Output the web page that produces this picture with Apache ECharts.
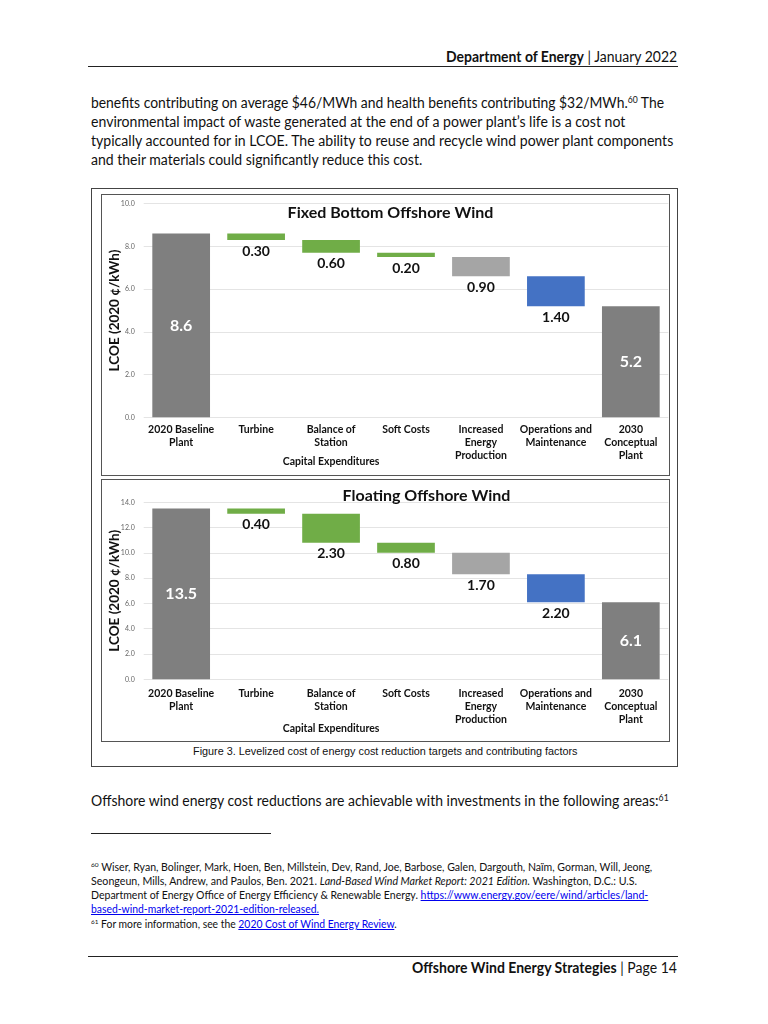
<!DOCTYPE html>
<html><head><meta charset="utf-8">
<script src="https://cdn.jsdelivr.net/npm/echarts@6.0.0/dist/echarts.min.js"></script>
<style>
html,body{margin:0;padding:0;background:#fff}
body{width:768px;height:1024px;position:relative;overflow:hidden;font-family:Lato,'Noto Sans',sans-serif;color:#111}
.ln{position:absolute;white-space:nowrap;left:0;top:0}
.ln sup{font-size:0.62em;vertical-align:0.55em;line-height:0}
.rule{position:absolute;height:0;border-top:1px solid #222}
.box{position:absolute;box-sizing:border-box}
a{color:#0000ee;text-decoration:underline}
.chart{position:absolute}
</style></head>
<body>
<div class="ln" data-a="r" data-x="677" data-y="56.7" data-w="231" data-fs="14.5"><b>Department of Energy</b> | January 2022</div>
<div class="rule" style="left:88px;top:66px;width:590px"></div>

<div class="ln" data-x="91" data-y="102.8" data-w="573" data-fs="14.5">benefits contributing on average $46/MWh and health benefits contributing $32/MWh.<sup>60</sup> The</div>
<div class="ln" data-x="91" data-y="121.5" data-w="534" data-fs="14.5">environmental impact of waste generated at the end of a power plant’s life is a cost not</div>
<div class="ln" data-x="91" data-y="140.2" data-w="582" data-fs="14.5">typically accounted for in LCOE. The ability to reuse and recycle wind power plant components</div>
<div class="ln" data-x="91" data-y="159.2" data-w="331" data-fs="14.5">and their materials could significantly reduce this cost.</div>

<div class="box" style="left:91px;top:188px;width:587px;height:579px;border:1.5px solid #444"></div>
<div class="box" style="left:101px;top:194px;width:569px;height:282px;border:1.5px solid #555"></div>
<div class="box" style="left:101px;top:479px;width:569px;height:263px;border:1.5px solid #555"></div>
<div id="c1" class="chart" style="left:101px;top:194px;width:569px;height:282px"></div>
<div id="c2" class="chart" style="left:101px;top:479px;width:569px;height:263px"></div>

<div class="ln" data-a="c" data-x="384.8" data-y="751" data-w="384" data-fs="11.5" style="font-family:'Liberation Sans',Arial,sans-serif">Figure 3. Levelized cost of energy cost reduction targets and contributing factors</div>

<div class="ln" data-x="91" data-y="800" data-w="578" data-fs="14.5">Offshore wind energy cost reductions are achievable with investments in the following areas:<sup>61</sup></div>
<div class="rule" style="left:91px;top:833px;width:180px"></div>

<div class="ln" data-x="91" data-y="867.3" data-w="561" data-fs="10.5"><sup>60</sup> Wiser, Ryan, Bolinger, Mark, Hoen, Ben, Millstein, Dev, Rand, Joe, Barbose, Galen, Dargouth, Naïm, Gorman, Will, Jeong,</div>
<div class="ln" data-x="91" data-y="881.2" data-w="546" data-fs="10.5">Seongeun, Mills, Andrew, and Paulos, Ben. 2021. <i>Land-Based Wind Market Report: 2021 Edition</i>. Washington, D.C.: U.S.</div>
<div class="ln" data-x="91" data-y="895.5" data-w="557" data-fs="10.5">Department of Energy Office of Energy Efficiency &amp; Renewable Energy. <a>https://www.energy.gov/eere/wind/articles/land-</a></div>
<div class="ln" data-x="91" data-y="909.3" data-w="228" data-fs="10.5"><a>based-wind-market-report-2021-edition-released.</a></div>
<div class="ln" data-x="91" data-y="924" data-w="306" data-fs="10.5"><sup>61</sup> For more information, see the <a>2020 Cost of Wind Energy Review</a>.</div>

<div class="rule" style="left:88px;top:956px;width:590px"></div>
<div class="ln" data-a="r" data-x="677" data-y="967.7" data-w="265" data-fs="14.5"><b>Offshore Wind Energy Strategies</b> | Page 14</div>

<script>
// ---------- data ----------
const categories = ['2020 Baseline\nPlant', 'Turbine', 'Balance of\nStation', 'Soft Costs', 'Increased\nEnergy\nProduction', 'Operations and\nMaintenance', '2030\nConceptual\nPlant'];
const fixedBaseline = 8.6;
const fixedReductions = [0.30, 0.60, 0.20, 0.90, 1.40];
const fixedTarget = 5.2;
const floatingBaseline = 13.5;
const floatingReductions = [0.40, 2.30, 0.80, 1.70, 2.20];
const floatingTarget = 6.1;
const fixedAxisMax = 10, floatingAxisMax = 14, axisInterval = 2;
const groupLabel = 'Capital Expenditures';
const yAxisTitle = 'LCOE (2020 ¢/kWh)';

// ---------- text layout ----------
document.querySelectorAll('.ln').forEach(el => {
  const fs = +el.dataset.fs, lh = fs * 1.25;
  el.style.fontSize = fs + 'px';
  el.style.lineHeight = lh + 'px';
  el.style.top = (+el.dataset.y - lh / 2 + 0.05 * fs) + 'px';
  const w = el.offsetWidth, s = +el.dataset.w / w, a = el.dataset.a;
  if (a === 'r') { el.style.left = (+el.dataset.x - w) + 'px'; el.style.transformOrigin = '100% 50%'; }
  else if (a === 'c') { el.style.left = (+el.dataset.x - w / 2) + 'px'; el.style.transformOrigin = '50% 50%'; }
  else { el.style.left = el.dataset.x + 'px'; el.style.transformOrigin = '0 50%'; }
  el.style.transform = 'scaleX(' + s + ')';
});

// ---------- charts ----------
const FONT = 'Lato, "Noto Sans", sans-serif';
const totalColor = '#7f7f7f';
const stepColors = ['#70ad47', '#70ad47', '#70ad47', '#a5a5a5', '#4472c4'];

function waterfall(dom, cfg) {
  const chart = echarts.init(dom, null, { renderer: 'canvas' });
  const totalLabel = { position: 'inside', color: '#fff', fontSize: 16, fontWeight: 'bold', distance: 0 };
  const base = [0];
  const vals = [{ value: cfg.start, itemStyle: { color: totalColor }, label: totalLabel }];
  let run = cfg.start;
  cfg.steps.forEach((d, i) => {
    run = +(run - d).toFixed(2);
    base.push(run);
    vals.push({ value: d, itemStyle: { color: stepColors[i] } });
  });
  base.push(0);
  vals.push({ value: cfg.end, itemStyle: { color: totalColor }, label: totalLabel });
  const last = categories.length - 1;
  chart.setOption({
    animation: false,
    grid: { left: 42.7, right: 1.7, top: cfg.top, bottom: cfg.bottom, containLabel: false, outerBoundsMode: 'none' },
    xAxis: {
      type: 'category', data: categories,
      axisLine: { show: false }, axisTick: { show: false },
      axisLabel: { interval: 0, fontFamily: FONT, fontWeight: 'bold', fontSize: 10.5, lineHeight: 13, color: '#111', margin: cfg.catMargin }
    },
    yAxis: {
      type: 'value', min: 0, max: cfg.max, interval: axisInterval,
      name: yAxisTitle, nameLocation: 'middle', nameRotate: 90, nameGap: 22, nameMoveOverlap: false,
      nameTextStyle: { fontFamily: FONT, fontWeight: 'bold', fontSize: 13.5, color: '#111' },
      axisLine: { show: false }, axisTick: { show: false },
      axisLabel: { fontFamily: FONT, fontSize: 7, color: '#666', margin: 9, formatter: v => v.toFixed(1) },
      splitLine: { lineStyle: { color: '#e4e4e4', width: 1 } }
    },
    series: [
      { type: 'bar', stack: 'w', data: base, barWidth: '77%', silent: true, itemStyle: { color: 'rgba(0,0,0,0)' } },
      { type: 'bar', stack: 'w', data: vals, barWidth: '77%',
        label: { show: true, position: 'bottom', distance: 4, fontFamily: FONT, fontWeight: 'bold', fontSize: 14, color: '#111',
          formatter: p => (p.dataIndex === 0 || p.dataIndex === last) ? p.value.toFixed(1) : p.value.toFixed(2) } }
    ]
  });
  const gx = chart.convertToPixel({ xAxisIndex: 0 }, categories[2]);
  const gy = chart.convertToPixel({ yAxisIndex: 0 }, 0);
  chart.setOption({
    graphic: [
      { type: 'text', x: cfg.titleX, y: cfg.titleY, style: { text: cfg.title, font: 'bold 16px ' + FONT, fill: '#111', align: 'center', verticalAlign: 'middle', textAlign: 'center', textVerticalAlign: 'middle' } },
      { type: 'text', x: gx, y: gy + cfg.groupDy, style: { text: groupLabel, font: 'bold 10.5px ' + FONT, fill: '#111', align: 'center', verticalAlign: 'middle', textAlign: 'center', textVerticalAlign: 'middle' } }
    ]
  });
}

waterfall(document.getElementById('c1'), { start: fixedBaseline, steps: fixedReductions, end: fixedTarget, max: fixedAxisMax,
  top: 9.7, bottom: 58.7, catMargin: 6, title: 'Fixed Bottom Offshore Wind', titleX: 289.5, titleY: 18.7, groupDy: 44.5 });
waterfall(document.getElementById('c2'), { start: floatingBaseline, steps: floatingReductions, end: floatingTarget, max: floatingAxisMax,
  top: 23.3, bottom: 62.7, catMargin: 8, title: 'Floating Offshore Wind', titleX: 325.5, titleY: 16.7, groupDy: 49.5 });
</script>
</body></html>
